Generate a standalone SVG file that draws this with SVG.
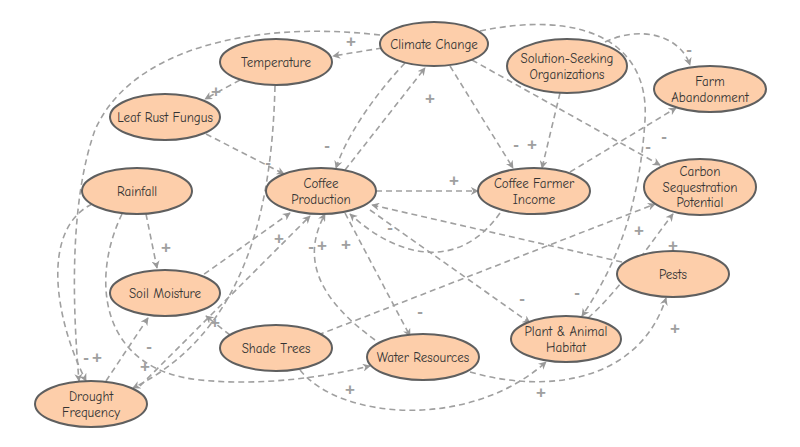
<svg xmlns="http://www.w3.org/2000/svg" width="800" height="447" viewBox="0 0 800 447">
<style>
.n ellipse{fill:#fdceaa;stroke:#5f5f5f;stroke-width:2}
.n text{font-family:"Comic Neue","Liberation Sans",sans-serif;font-size:13px;fill:#333;text-anchor:middle}
#edges path{fill:none;stroke:#a0a0a0;stroke-width:1.6;stroke-dasharray:6,4;marker-end:url(#ah)}
.l{font-family:"Liberation Sans",sans-serif;font-size:17px;font-weight:bold;fill:#a0a0a0;text-anchor:middle}
</style>
<defs><marker id="ah" viewBox="0 0 10 10" refX="9" refY="5" markerWidth="8" markerHeight="8" orient="auto" markerUnits="userSpaceOnUse"><path d="M0,0 L10,5 L0,10 L3,5 z" fill="#999"/></marker></defs>
<rect width="800" height="447" fill="#fff"/>
<g id="edges">
<path d="M382,48 L333,56"/>
<path d="M380,35 C250,20 130,50 95,130 C70,200 72,300 79,381"/>
<path d="M92,204 C40,230 55,320 86,381"/>
<path d="M240,80 L205,99"/>
<path d="M275,86 C272,200 250,330 133,388"/>
<path d="M106,381 L148,318"/>
<path d="M206,134 L284,174"/>
<path d="M230,335 L206,316"/>
<path d="M196,280 L290,213"/>
<path d="M140,386 L310,216"/>
<path d="M375,340 C320,300 300,260 325,214"/>
<path d="M345,213 L410,336"/>
<path d="M370,210 L530,323"/>
<path d="M622,262 L372,205"/>
<path d="M376,191 L478,191"/>
<path d="M345,170 L425,68"/>
<path d="M405,63 C370,100 345,140 336,168"/>
<path d="M500,213 C460,270 400,260 350,214"/>
<path d="M450,66 L513,168"/>
<path d="M560,93 L542,168"/>
<path d="M472,60 L660,165"/>
<path d="M570,172 L676,108"/>
<path d="M480,31 C580,10 650,40 645,120 C640,200 620,260 582,316"/>
<path d="M605,42 C640,25 680,35 690,65"/>
<path d="M318,335 L655,204"/>
<path d="M588,318 C620,290 645,250 673,214"/>
<path d="M470,372 C550,395 640,380 666,298"/>
<path d="M300,370 C340,420 470,430 546,362"/>
<path d="M122,214 C90,280 100,370 200,380 C260,386 320,378 370,366"/>
<path d="M146,214 L157,268"/>
</g>
<g>
<text class="l" x="351" y="47">+</text><text class="l" x="216" y="97">+</text>
<text class="l" x="86" y="363">-</text><text class="l" x="97" y="363">+</text>
<text class="l" x="268" y="168">-</text><text class="l" x="166" y="253">+</text>
<text class="l" x="149" y="352">-</text><text class="l" x="145" y="372">+</text>
<text class="l" x="215" y="328">+</text><text class="l" x="279" y="244">+</text>
<text class="l" x="311" y="252">-</text><text class="l" x="322" y="251">+</text><text class="l" x="346" y="250">+</text>
<text class="l" x="420" y="317">-</text><text class="l" x="522" y="304">-</text>
<text class="l" x="390" y="233">-</text><text class="l" x="454" y="186">+</text>
<text class="l" x="430" y="104">+</text><text class="l" x="327" y="151">-</text>
<text class="l" x="516" y="150">-</text><text class="l" x="532" y="150">+</text>
<text class="l" x="648" y="152">-</text><text class="l" x="664" y="142">-</text>
<text class="l" x="577" y="298">-</text><text class="l" x="689" y="55">-</text>
<text class="l" x="639" y="236">+</text><text class="l" x="673" y="251">+</text>
<text class="l" x="675" y="334">+</text><text class="l" x="541" y="398">+</text>
<text class="l" x="350" y="395">+</text>
</g>
<g id="climate" class="n"><ellipse cx="434" cy="44" rx="54" ry="22"/><text x="434" y="49">Climate Change</text></g>
<g id="temperature" class="n"><ellipse cx="276" cy="62" rx="56" ry="23"/><text x="276" y="67">Temperature</text></g>
<g id="solution" class="n"><ellipse cx="567" cy="66" rx="60" ry="27"/><text x="567" y="63">Solution-Seeking</text><text x="567" y="79">Organizations</text></g>
<g id="farm" class="n"><ellipse cx="710" cy="89" rx="56" ry="23"/><text x="710" y="86">Farm</text><text x="710" y="102">Abandonment</text></g>
<g id="leafrust" class="n"><ellipse cx="165" cy="117" rx="55" ry="23"/><text x="165" y="122">Leaf Rust Fungus</text></g>
<g id="rainfall" class="n"><ellipse cx="137" cy="191" rx="55" ry="23"/><text x="137" y="196">Rainfall</text></g>
<g id="coffee" class="n"><ellipse cx="321" cy="191" rx="55" ry="23"/><text x="321" y="188">Coffee</text><text x="321" y="204">Production</text></g>
<g id="income" class="n"><ellipse cx="534" cy="191" rx="56" ry="23"/><text x="534" y="188">Coffee Farmer</text><text x="534" y="204">Income</text></g>
<g id="carbon" class="n"><ellipse cx="700" cy="187" rx="56" ry="28"/><text x="700" y="176">Carbon</text><text x="700" y="192">Sequestration</text><text x="700" y="207">Potential</text></g>
<g id="soil" class="n"><ellipse cx="165" cy="293" rx="55" ry="23"/><text x="165" y="298">Soil Moisture</text></g>
<g id="pests" class="n"><ellipse cx="673" cy="274" rx="56" ry="23"/><text x="673" y="279">Pests</text></g>
<g id="shade" class="n"><ellipse cx="276" cy="348" rx="56" ry="23"/><text x="276" y="353">Shade Trees</text></g>
<g id="water" class="n"><ellipse cx="423" cy="357" rx="56" ry="23"/><text x="423" y="362">Water Resources</text></g>
<g id="habitat" class="n"><ellipse cx="566" cy="339" rx="55" ry="23"/><text x="566" y="336">Plant &amp; Animal</text><text x="566" y="352">Habitat</text></g>
<g id="drought" class="n"><ellipse cx="91" cy="404" rx="56" ry="23"/><text x="91" y="401">Drought</text><text x="91" y="417">Frequency</text></g>
</svg>
